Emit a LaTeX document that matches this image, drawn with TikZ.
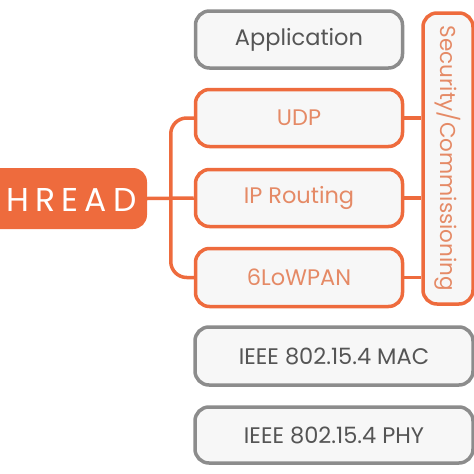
\documentclass[tikz,border=0pt]{standalone}
\usepackage{fontspec}
\setmainfont{Poppins}
\definecolor{orng}{HTML}{EE6B3D}
\definecolor{orngtxt}{HTML}{E58A66}
\definecolor{gry}{HTML}{8C8C8C}
\definecolor{grytxt}{HTML}{555555}
\definecolor{boxfill}{HTML}{F7F7F7}
\begin{document}
\begin{tikzpicture}[x=1pt,y=-1pt,
  layer/.style={draw=gry,line width=3.5pt,fill=boxfill,rounded corners=14pt,
    inner sep=0pt,text=grytxt,font=\fontsize{22.5}{26}\selectfont},
  olayer/.style={layer,draw=orng,text=orngtxt},
  conn/.style={draw=orng,line width=3.5pt}]
\useasboundingbox (0,0) rectangle (474,474);
\node[layer,minimum width=207pt,minimum height=57pt] (app) at (299,39.5) {Application};
\node[olayer,minimum width=207pt,minimum height=57pt] (udp) at (299,118) {UDP};
\node[olayer,minimum width=207pt,minimum height=57pt] (ip) at (299,198) {IP Routing};
\node[olayer,minimum width=207pt,minimum height=58pt] (low) at (299,277.5) {6LoWPAN};
\node[layer,minimum width=278pt,minimum height=58pt] (mac) at (334,356) {IEEE 802.15.4 MAC};
\node[layer,minimum width=278pt,minimum height=56pt] (phy) at (334,435) {IEEE 802.15.4 PHY};
\node[olayer,minimum width=50pt,minimum height=291pt] (sec) at (448,158.5) {};
\node[text=orngtxt,rotate=-90,font=\fontsize{21.5}{24}\selectfont] (sectxt) at (sec.center) {Security/Commissioning};
\node[fill=orng,rounded corners=14pt,minimum width=207pt,minimum height=61pt,inner sep=0pt] (thread) at (43.5,198.5) {};
\node[text=white,anchor=east,inner sep=0pt,font=\fontsize{33}{36}\selectfont\addfontfeature{LetterSpace=19}] (threadtxt) at (137,200) {THREAD};
\draw[conn] (thread.east) -- (ip.west);
\draw[conn,rounded corners=16pt] (udp.west) -- ++(-23,0) |- (low.west);
\draw[conn] (udp.east) -- (sec.west |- udp.east);
\draw[conn] (ip.east) -- (sec.west |- ip.east);
\draw[conn] (low.east) -- (sec.west |- low.east);
\end{tikzpicture}
\end{document}
